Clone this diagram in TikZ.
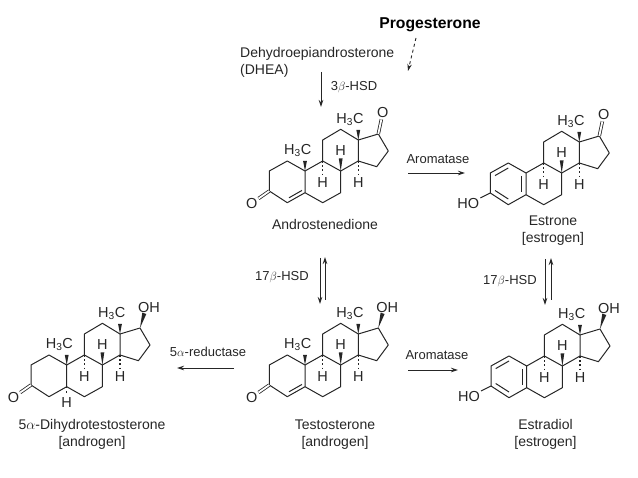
\documentclass[tikz,border=0pt]{standalone}
\usepackage{fontspec}
\setmainfont{Liberation Sans}
\usetikzlibrary{arrows.meta,calc}
\definecolor{inkgray}{HTML}{262626}

\tikzset{
  bondline/.style={line width=1pt,draw=inkgray,line join=round},
  dblbond/.style={bondline,double=white,double distance=1.8pt,line width=.8pt},
  hashbond/.style={line width=1.2pt,draw=inkgray,dash pattern=on 1.8pt off 2.4pt,shorten >=2pt},
  atomlabel/.style={font=\fontsize{14.5}{15}\selectfont,text=inkgray,inner sep=1pt},
  namelabel/.style={font=\fontsize{14}{17}\selectfont,text=inkgray,inner sep=0pt,align=center},
  enzymelabel/.style={font=\fontsize{13}{14}\selectfont,text=inkgray,inner sep=0pt},
  rxnarrow/.style={line width=.9pt,draw=inkgray,-{Stealth[length=7pt,width=4.5pt]}},
  % rings B, C and the five ring, with the hydrogens and the C18 methyl
  steroidcore/.pic={
    \draw[bondline] (0,0) -- (0,21.7) -- (17.7,31.7) -- (35.7,21.7) -- (35.7,0) -- (17.7,-10) -- cycle;
    \draw[bondline] (17.7,-10) -- (17.7,-31) -- (35.7,-41.7) -- (53.3,-31) -- (53.3,-10) -- (35.7,0);
    \draw[bondline] (53.3,-31) -- (73.3,-37) -- (83.3,-20) -- (71.7,-4.3) -- (53.3,-10);
    \node[atomlabel] (-me13) at (45,-51.7) {H\textsubscript{3}C};
    \node[atomlabel] (-h8) at (35.7,-20.3) {H};
    \node[atomlabel] (-h9) at (17.7,11.7) {H};
    \node[atomlabel] (-h14) at (53.3,11.7) {H};
    \coordinate (-c8) at (35.7,0);
    \coordinate (-c9) at (17.7,-10);
    \coordinate (-c13) at (53.3,-31);
    \coordinate (-c14) at (53.3,-10);
    \fill[inkgray] (-c13) -- ($(53.3,-41)+(1.9,0)$) -- ($(53.3,-41)+(-1.9,0)$) -- cycle;
    \fill[inkgray] (-c8) -- ($(35.7,-12.5)+(1.9,0)$) -- ($(35.7,-12.5)+(-1.9,0)$) -- cycle;
    \draw[hashbond] (-c9) -- (-h9);
    \draw[hashbond] (-c14) -- (-h14);
  },
  % ring A with the C3 ketone and C10 methyl, without the 4,5 bond style
  ketoring/.pic={
    \draw[bondline] (0,0) -- (-17.7,-10) -- (-35.7,0) -- (-35.7,20) -- (-17.7,31.7);
    \node[atomlabel] (-o3) at (-53.3,32.3) {O};
    \node[atomlabel] (-me10) at (-7.3,-20.3) {H\textsubscript{3}C};
    \coordinate (-c3) at (-35.7,20);
    \draw[dblbond] (-c3) -- (-o3);
    \fill[inkgray] (0,0) -- (1.9,-10) -- (-1.9,-10) -- cycle;
  },
  enonebond/.pic={
    \draw[bondline] (-17.7,31.7) -- (0,21.7);
    \draw[bondline] (-16,26.8) -- (-3,19.4);
  },
  dihydrobond/.pic={
    \draw[bondline] (-17.7,31.7) -- (0,21.7);
    \node[atomlabel] (-h5) at (0,38) {H};
    \coordinate (-c5) at (0,21.7);
    \draw[hashbond] (-c5) -- (-h5);
  },
  phenolring/.pic={
    \draw[bondline] (0,0) -- (-17.7,-10) -- (-35.7,0) -- (-35.7,20) -- (-17.7,31.7) -- (0,21.7);
    \draw[bondline] (-4.5,2.8) -- (-4.5,18.9);
    \draw[bondline] (-17.7,-5) -- (-31,2.6);
    \draw[bondline] (-31,17.5) -- (-17.7,26);
    \node[atomlabel] (-oh3) at (-57.7,31) {HO};
    \coordinate (-c3) at (-35.7,20);
    \draw[bondline] (-c3) -- (-oh3);
  },
  ketoneD/.pic={
    \node[atomlabel] (-o17) at (77.7,-58) {O};
    \coordinate (-c17) at (73.3,-37);
    \draw[dblbond] (-c17) -- (-o17);
  },
  hydroxyD/.pic={
    \node[atomlabel] (-oh17) at (82.3,-57.7) {OH};
    \fill[inkgray] (73.3,-37) -- (79.6,-51) -- (75.6,-52.4) -- cycle;
  }
}

\begin{document}
\begin{tikzpicture}[x=1pt,y=-1pt]
  \useasboundingbox (0,0) rectangle (638,478);

  % top row
  \pic (andro) at (305,171) {steroidcore};
  \pic (androa) at (305,171) {ketoring};
  \pic at (305,171) {enonebond};
  \pic (androd) at (305,171) {ketoneD};
  \pic (estrone) at (526,173) {steroidcore};
  \pic (estronea) at (526,173) {phenolring};
  \pic (estroned) at (526,173) {ketoneD};

  % bottom row
  \pic (dht) at (66.7,365) {steroidcore};
  \pic (dhta) at (66.7,365) {ketoring};
  \pic (dhtb) at (66.7,365) {dihydrobond};
  \pic (dhtd) at (66.7,365) {hydroxyD};
  \pic (testo) at (305,365) {steroidcore};
  \pic (testoa) at (305,365) {ketoring};
  \pic at (305,365) {enonebond};
  \pic (testod) at (305,365) {hydroxyD};
  \pic (estradiol) at (526.7,366) {steroidcore};
  \pic (estradiola) at (526.7,366) {phenolring};
  \pic (estradiold) at (526.7,366) {hydroxyD};

  % names
  \node[font=\fontsize{15.7}{17}\selectfont\bfseries,inner sep=0pt] (proglabel) at (430,25) {Progesterone};
  \node[namelabel,anchor=west,align=left] (dhealabel) at (240,62.5) {Dehydroepiandrosterone\\(DHEA)};
  \node[namelabel] (androlabel) at (325,224) {Androstenedione};
  \node[namelabel] (estronelabel) at (553,230.5) {Estrone\\{[}estrogen{]}};
  \node[namelabel] (testolabel) at (335,434.5) {Testosterone\\{[}androgen{]}};
  \node[namelabel] (estradiollabel) at (545.5,434) {Estradiol\\{[}estrogen{]}};
  \node[namelabel] (dhtlabel) at (92,434.5) {5$\alpha$-Dihydrotestosterone\\{[}androgen{]}};

  % enzymes
  \node[enzymelabel] (hsd3) at (354,87) {3$\beta$-HSD};
  \node[enzymelabel] (aromtop) at (438,159) {Aromatase};
  \node[enzymelabel] (arombot) at (437,355) {Aromatase};
  \node[enzymelabel] (hsd17l) at (282,277.5) {17$\beta$-HSD};
  \node[enzymelabel] (hsd17r) at (510,281.5) {17$\beta$-HSD};
  \node[enzymelabel] (reductase) at (208,352) {5$\alpha$-reductase};

  % arrow ends
  \coordinate (dheaout) at (321,72);
  \coordinate (androin) at (321,107);
  \coordinate (progout) at (416,38);
  \coordinate (dheain) at (408,71);
  \coordinate (aromtopa) at (408,173);
  \coordinate (aromtopb) at (465,173);
  \coordinate (arombota) at (408,370);
  \coordinate (arombotb) at (458,370);
  \coordinate (reda) at (234,368);
  \coordinate (redb) at (177,368);
  \coordinate (hsdla) at (320,258);
  \coordinate (hsdlb) at (320,304);
  \coordinate (hsdlc) at (325,300);
  \coordinate (hsdld) at (325,257);
  \coordinate (hsdra) at (545,259);
  \coordinate (hsdrb) at (545,305);
  \coordinate (hsdrc) at (551,300);
  \coordinate (hsdrd) at (551,258);

  \draw[rxnarrow] (dheaout) -- (androin);
  \draw[rxnarrow,dashed] (progout) -- (dheain);
  \draw[rxnarrow] (aromtopa) -- (aromtopb);
  \draw[rxnarrow] (arombota) -- (arombotb);
  \draw[rxnarrow] (reda) -- (redb);
  \draw[rxnarrow] (hsdla) -- (hsdlb);
  \draw[rxnarrow] (hsdlc) -- (hsdld);
  \draw[rxnarrow] (hsdra) -- (hsdrb);
  \draw[rxnarrow] (hsdrc) -- (hsdrd);
\end{tikzpicture}
\end{document}
